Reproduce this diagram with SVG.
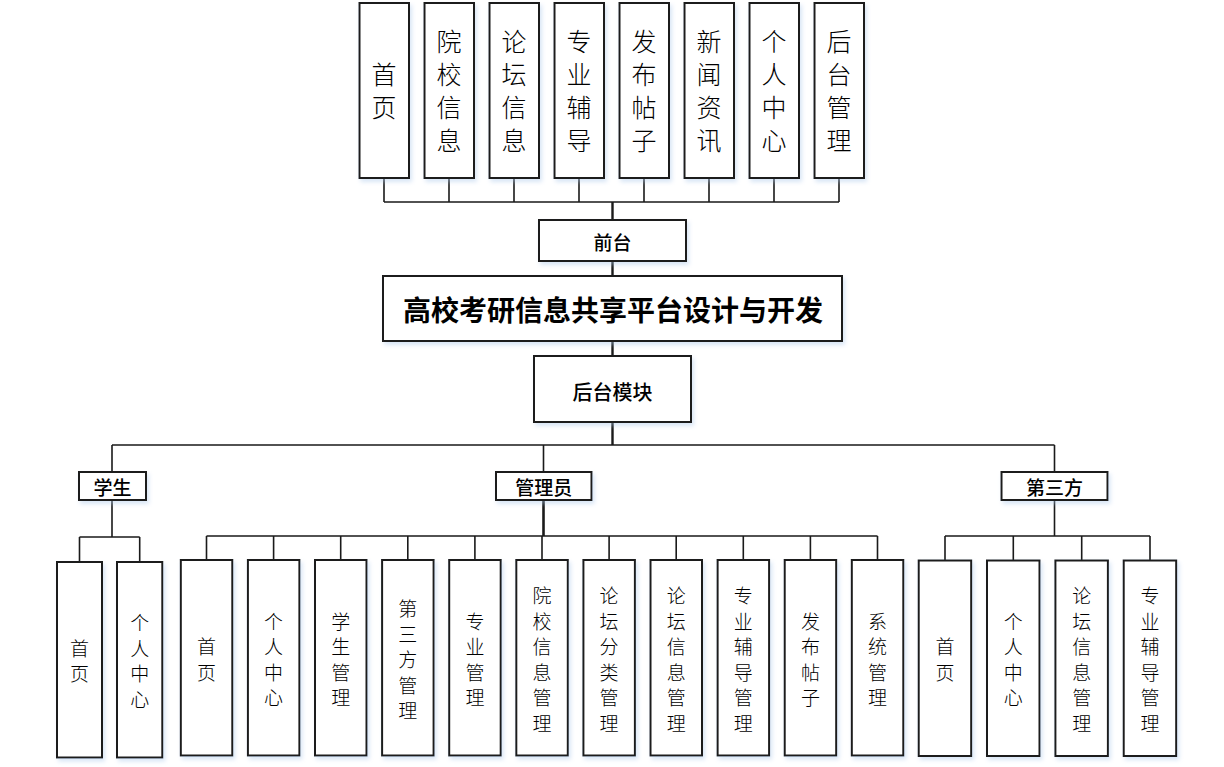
<svg xmlns="http://www.w3.org/2000/svg" width="1224" height="767" viewBox="0 0 1224 767">
<defs>
<filter id="sh" x="-20%" y="-20%" width="150%" height="150%">
<feDropShadow dx="2" dy="3" stdDeviation="2" flood-color="#a9c8ea" flood-opacity="0.45"/>
</filter>
<style>
.b{fill:#fff;stroke:#1a1a1a;stroke-width:2;filter:url(#sh)}
.c{fill:none;stroke:#1a1a1a;stroke-width:1.6}
.t{font-family:"Noto Sans CJK SC","Noto Sans",sans-serif;fill:#000;text-anchor:middle;dominant-baseline:central}
.top{font-size:25px;font-weight:300}
.bot{font-size:19px;font-weight:300}
.mid{font-size:19px;font-weight:500}
.title{font-size:28px;font-weight:700}
</style>
</defs>
<rect width="1224" height="767" fill="#fff"/>
<g id="connectors">
<path class="c" d="M384,178V202M449,178V202M514,178V202M579,178V202M644,178V202M709,178V202M774,178V202M839,178V202M384,202H839"/>
<path class="c" style="stroke-width:2.4" d="M612.5,202V220M612.5,261V276M612.5,341V356M612.5,422V445"/>
<path class="c" d="M112,445H1054.5M112,445V472M543.5,445V472M1054.5,445V472"/>
<path class="c" d="M112,500V537M79.5,537H139.7M79.5,537V562M139.7,537V562"/>
<path class="c" style="stroke-width:2.6" d="M543.5,500V536"/>
<path class="c" d="M206.5,536H877.5M206.5,536V560M273.6,536V560M340.7,536V560M407.8,536V560M474.9,536V560M542,536V560M609.1,536V560M676.2,536V560M743.3,536V560M810.4,536V560M877.5,536V560"/>
<path class="c" d="M1054.5,500V536M945,536H1150M945,536V560M1013.3,536V560M1081.7,536V560M1150,536V560"/>
</g>
<g id="top-nodes">
<g id="n-home"><rect class="b" x="359.5" y="3" width="49.5" height="175"/><text class="t top" x="384"><tspan x="384" y="73">首</tspan><tspan x="384" y="106">页</tspan></text></g>
<g id="n-school"><rect class="b" x="424.5" y="3" width="49.5" height="175"/><text class="t top"><tspan x="449" y="40">院</tspan><tspan x="449" y="73">校</tspan><tspan x="449" y="106">信</tspan><tspan x="449" y="139">息</tspan></text></g>
<g id="n-forum"><rect class="b" x="489.5" y="3" width="49.5" height="175"/><text class="t top"><tspan x="514" y="40">论</tspan><tspan x="514" y="73">坛</tspan><tspan x="514" y="106">信</tspan><tspan x="514" y="139">息</tspan></text></g>
<g id="n-tutor"><rect class="b" x="554.5" y="3" width="49.5" height="175"/><text class="t top"><tspan x="579" y="40">专</tspan><tspan x="579" y="73">业</tspan><tspan x="579" y="106">辅</tspan><tspan x="579" y="139">导</tspan></text></g>
<g id="n-post"><rect class="b" x="619.5" y="3" width="49.5" height="175"/><text class="t top"><tspan x="644" y="40">发</tspan><tspan x="644" y="73">布</tspan><tspan x="644" y="106">帖</tspan><tspan x="644" y="139">子</tspan></text></g>
<g id="n-news"><rect class="b" x="684.5" y="3" width="49.5" height="175"/><text class="t top"><tspan x="709" y="40">新</tspan><tspan x="709" y="73">闻</tspan><tspan x="709" y="106">资</tspan><tspan x="709" y="139">讯</tspan></text></g>
<g id="n-personal"><rect class="b" x="749.5" y="3" width="49.5" height="175"/><text class="t top"><tspan x="774" y="40">个</tspan><tspan x="774" y="73">人</tspan><tspan x="774" y="106">中</tspan><tspan x="774" y="139">心</tspan></text></g>
<g id="n-admin"><rect class="b" x="814.5" y="3" width="49.5" height="175"/><text class="t top"><tspan x="839" y="40">后</tspan><tspan x="839" y="73">台</tspan><tspan x="839" y="106">管</tspan><tspan x="839" y="139">理</tspan></text></g>
</g>
<g id="n-front"><rect class="b" x="539" y="220" width="147" height="41"/><text class="t mid" x="612.5" y="241">前台</text></g>
<g id="n-main"><rect class="b" x="383" y="276" width="459" height="65"/><text class="t title" x="613" y="309">高校考研信息共享平台设计与开发</text></g>
<g id="n-backend"><rect class="b" x="534" y="356" width="157" height="66"/><text class="t mid" style="font-size:20px" x="612.5" y="391">后台模块</text></g>
<g id="n-student"><rect class="b" x="79" y="472" width="67" height="28"/><text class="t mid" x="112.5" y="486">学生</text></g>
<g id="n-manager"><rect class="b" x="496" y="472" width="95.5" height="28"/><text class="t mid" x="543.7" y="486">管理员</text></g>
<g id="n-third"><rect class="b" x="1001.5" y="472" width="106" height="28"/><text class="t mid" x="1054.5" y="486">第三方</text></g>
<g id="student-nodes">
<g id="s-home"><rect class="b" x="57" y="562" width="45" height="195.5"/><text class="t bot"><tspan x="79.5" y="647">首</tspan><tspan x="79.5" y="672">页</tspan></text></g>
<g id="s-personal"><rect class="b" x="117" y="562" width="45.3" height="195.5"/><text class="t bot"><tspan x="139.7" y="621">个</tspan><tspan x="139.7" y="646.5">人</tspan><tspan x="139.7" y="672">中</tspan><tspan x="139.7" y="697.5">心</tspan></text></g>
</g>
<g id="manager-nodes">
<g id="m-home"><rect class="b" x="180.8" y="560" width="51.5" height="195.5"/><text class="t bot"><tspan x="206.5" y="645">首</tspan><tspan x="206.5" y="670.5">页</tspan></text></g>
<g id="m-personal"><rect class="b" x="247.9" y="560" width="51.5" height="195.5"/><text class="t bot"><tspan x="273.6" y="619.5">个</tspan><tspan x="273.6" y="645">人</tspan><tspan x="273.6" y="670.5">中</tspan><tspan x="273.6" y="696">心</tspan></text></g>
<g id="m-student"><rect class="b" x="315" y="560" width="51.5" height="195.5"/><text class="t bot"><tspan x="340.7" y="619.5">学</tspan><tspan x="340.7" y="645">生</tspan><tspan x="340.7" y="670.5">管</tspan><tspan x="340.7" y="696">理</tspan></text></g>
<g id="m-third"><rect class="b" x="382.1" y="560" width="51.5" height="195.5"/><text class="t bot"><tspan x="407.8" y="607">第</tspan><tspan x="407.8" y="632.5">三</tspan><tspan x="407.8" y="658">方</tspan><tspan x="407.8" y="683.5">管</tspan><tspan x="407.8" y="709">理</tspan></text></g>
<g id="m-major"><rect class="b" x="449.2" y="560" width="51.5" height="195.5"/><text class="t bot"><tspan x="474.9" y="619.5">专</tspan><tspan x="474.9" y="645">业</tspan><tspan x="474.9" y="670.5">管</tspan><tspan x="474.9" y="696">理</tspan></text></g>
<g id="m-school"><rect class="b" x="516.3" y="560" width="51.5" height="195.5"/><text class="t bot"><tspan x="542" y="594">院</tspan><tspan x="542" y="619.5">校</tspan><tspan x="542" y="645">信</tspan><tspan x="542" y="670.5">息</tspan><tspan x="542" y="696">管</tspan><tspan x="542" y="721.5">理</tspan></text></g>
<g id="m-forumcat"><rect class="b" x="583.4" y="560" width="51.5" height="195.5"/><text class="t bot"><tspan x="609.1" y="594">论</tspan><tspan x="609.1" y="619.5">坛</tspan><tspan x="609.1" y="645">分</tspan><tspan x="609.1" y="670.5">类</tspan><tspan x="609.1" y="696">管</tspan><tspan x="609.1" y="721.5">理</tspan></text></g>
<g id="m-foruminfo"><rect class="b" x="650.5" y="560" width="51.5" height="195.5"/><text class="t bot"><tspan x="676.2" y="594">论</tspan><tspan x="676.2" y="619.5">坛</tspan><tspan x="676.2" y="645">信</tspan><tspan x="676.2" y="670.5">息</tspan><tspan x="676.2" y="696">管</tspan><tspan x="676.2" y="721.5">理</tspan></text></g>
<g id="m-tutor"><rect class="b" x="717.6" y="560" width="51.5" height="195.5"/><text class="t bot"><tspan x="743.3" y="594">专</tspan><tspan x="743.3" y="619.5">业</tspan><tspan x="743.3" y="645">辅</tspan><tspan x="743.3" y="670.5">导</tspan><tspan x="743.3" y="696">管</tspan><tspan x="743.3" y="721.5">理</tspan></text></g>
<g id="m-post"><rect class="b" x="784.7" y="560" width="51.5" height="195.5"/><text class="t bot"><tspan x="810.4" y="619.5">发</tspan><tspan x="810.4" y="645">布</tspan><tspan x="810.4" y="670.5">帖</tspan><tspan x="810.4" y="696">子</tspan></text></g>
<g id="m-system"><rect class="b" x="851.8" y="560" width="51.5" height="195.5"/><text class="t bot"><tspan x="877.5" y="619.5">系</tspan><tspan x="877.5" y="645">统</tspan><tspan x="877.5" y="670.5">管</tspan><tspan x="877.5" y="696">理</tspan></text></g>
</g>
<g id="third-nodes">
<g id="t-home"><rect class="b" x="918.7" y="560.5" width="52.5" height="195.5"/><text class="t bot"><tspan x="945" y="645">首</tspan><tspan x="945" y="670.5">页</tspan></text></g>
<g id="t-personal"><rect class="b" x="987" y="560.5" width="52.5" height="195.5"/><text class="t bot"><tspan x="1013.3" y="619.5">个</tspan><tspan x="1013.3" y="645">人</tspan><tspan x="1013.3" y="670.5">中</tspan><tspan x="1013.3" y="696">心</tspan></text></g>
<g id="t-forum"><rect class="b" x="1055.4" y="560.5" width="52.5" height="195.5"/><text class="t bot"><tspan x="1081.7" y="594">论</tspan><tspan x="1081.7" y="619.5">坛</tspan><tspan x="1081.7" y="645">信</tspan><tspan x="1081.7" y="670.5">息</tspan><tspan x="1081.7" y="696">管</tspan><tspan x="1081.7" y="721.5">理</tspan></text></g>
<g id="t-tutor"><rect class="b" x="1123.7" y="560.5" width="52.5" height="195.5"/><text class="t bot"><tspan x="1150" y="594">专</tspan><tspan x="1150" y="619.5">业</tspan><tspan x="1150" y="645">辅</tspan><tspan x="1150" y="670.5">导</tspan><tspan x="1150" y="696">管</tspan><tspan x="1150" y="721.5">理</tspan></text></g>
</g>
</svg>
